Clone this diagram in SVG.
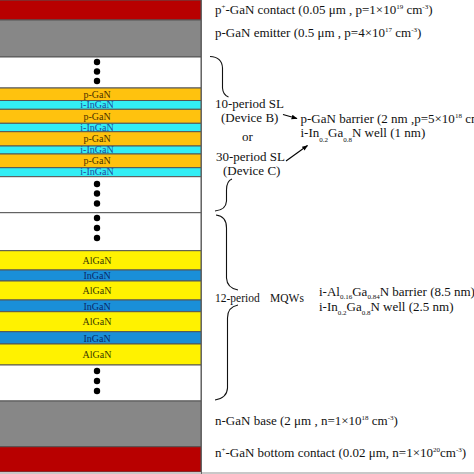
<svg xmlns="http://www.w3.org/2000/svg" width="474" height="474" viewBox="0 0 474 474">
<defs>
<marker id="ah" viewBox="0 0 10 10" refX="9" refY="5" markerWidth="6" markerHeight="6" orient="auto" markerUnits="userSpaceOnUse">
<path d="M0,1 L10,5 L0,9 z" fill="#000"/>
</marker>
</defs>
<style>
.lay{stroke:#555;stroke-width:1}
.red{fill:#B80000}
.gray{fill:#878787}
.white{fill:#fff}
.pg{fill:#FFC20E}
.ig{fill:#33EEF5}
.al{fill:#FFF200}
.in{fill:#1A8FD8}
.lt{font-family:"Liberation Serif","Times New Roman",serif;font-size:10px;text-anchor:middle}
.tpg{fill:#4A3200}
.tig{fill:#1E4AA0}
.tal{fill:#3A3A00}
.tin{fill:#0A2A6A}
.rt{font-family:"Liberation Serif","Times New Roman",serif;font-size:13px;fill:#111}
.sm{font-size:7px}
.br{fill:none;stroke:#111;stroke-width:1.1}
.ar{stroke:#000;stroke-width:1.1;marker-end:url(#ah)}
.dot{fill:#000}
</style>
<rect width="474" height="474" fill="#fff"/>
<g id="stack">
<rect class="lay red" x="-2" y="0" width="203" height="20"/>
<rect class="lay gray" x="-2" y="20" width="203" height="37"/>
<rect class="lay white" x="-2" y="57" width="203" height="31"/>
<rect class="lay pg" x="-2" y="88" width="203" height="12.5"/>
<rect class="lay ig" x="-2" y="100.5" width="203" height="8.8"/>
<rect class="lay pg" x="-2" y="109.3" width="203" height="14"/>
<rect class="lay ig" x="-2" y="123.3" width="203" height="8.4"/>
<rect class="lay pg" x="-2" y="131.7" width="203" height="14.3"/>
<rect class="lay ig" x="-2" y="146" width="203" height="8"/>
<rect class="lay pg" x="-2" y="154" width="203" height="13.7"/>
<rect class="lay ig" x="-2" y="167.7" width="203" height="9"/>
<rect class="lay white" x="-2" y="176.7" width="203" height="36"/>
<rect class="lay white" x="-2" y="212.7" width="203" height="38"/>
<rect class="lay al" x="-2" y="250.7" width="203" height="19.3"/>
<rect class="lay in" x="-2" y="270" width="203" height="11"/>
<rect class="lay al" x="-2" y="281" width="203" height="19"/>
<rect class="lay in" x="-2" y="300" width="203" height="11.7"/>
<rect class="lay al" x="-2" y="311.7" width="203" height="20"/>
<rect class="lay in" x="-2" y="331.7" width="203" height="12.3"/>
<rect class="lay al" x="-2" y="344" width="203" height="21"/>
<rect class="lay white" x="-2" y="365" width="203" height="36"/>
<rect class="lay gray" x="-2" y="401" width="203" height="45.7"/>
<rect class="lay red" x="-2" y="446.7" width="203" height="25.3"/>
<rect x="0" y="472" width="474" height="2" fill="#c8c8c8"/>
<line x1="201.5" y1="0" x2="201.5" y2="474" stroke="#666" stroke-width="1"/>
</g>
<g id="layer-labels" class="lt">
<text class="tpg" x="97" y="97.5">p-GaN</text>
<text class="tig" x="97" y="108">i-InGaN</text>
<text class="tpg" x="97" y="119.5">p-GaN</text>
<text class="tig" x="97" y="130.7">i-InGaN</text>
<text class="tpg" x="97" y="142">p-GaN</text>
<text class="tig" x="97" y="153">i-InGaN</text>
<text class="tpg" x="97" y="164">p-GaN</text>
<text class="tig" x="97" y="175.3">i-InGaN</text>
<text class="tal" x="97" y="263.5">AlGaN</text>
<text class="tin" x="97" y="279">InGaN</text>
<text class="tal" x="97" y="294">AlGaN</text>
<text class="tin" x="97" y="309.5">InGaN</text>
<text class="tal" x="97" y="325">AlGaN</text>
<text class="tin" x="97" y="341.5">InGaN</text>
<text class="tal" x="97" y="358">AlGaN</text>
</g>
<g id="dots">
<circle class="dot" cx="97" cy="62" r="3.2"/>
<circle class="dot" cx="97" cy="71.5" r="3.2"/>
<circle class="dot" cx="97" cy="81" r="3.2"/>
<circle class="dot" cx="97" cy="184" r="3.2"/>
<circle class="dot" cx="97" cy="193.5" r="3.2"/>
<circle class="dot" cx="97" cy="203.5" r="3.2"/>
<circle class="dot" cx="97" cy="218" r="3.2"/>
<circle class="dot" cx="97" cy="228" r="3.2"/>
<circle class="dot" cx="97" cy="238" r="3.2"/>
<circle class="dot" cx="97" cy="371" r="3.2"/>
<circle class="dot" cx="97" cy="381" r="3.2"/>
<circle class="dot" cx="97" cy="391" r="3.2"/>
</g>
<g id="connectors">
<path class="br" d="M210,56.5 Q222,57 222.5,68 L222.5,88 Q223,95 228.5,97"/>
<path class="br" d="M232,179 Q226.5,181 226.5,190 L226.5,201 Q226,210 215,211"/>
<path class="br" d="M216,215 Q226.5,216 226.5,228 L226.5,278 Q227,288 238,290"/>
<path class="br" d="M238,305 Q227.5,307 227.5,318 L227.5,388 Q227,398 215,400"/>
<line class="ar" x1="283" y1="114.5" x2="297" y2="118.5"/>
<line class="ar" x1="286" y1="161" x2="307.5" y2="145.5"/>
</g>
<g id="labels" class="rt">
<text x="215" y="14">p<tspan class="sm" dy="-5">+</tspan><tspan dy="5">-GaN contact (0.05 μm , p=1×10</tspan><tspan class="sm" dy="-5">19</tspan><tspan dy="5"> cm</tspan><tspan class="sm" dy="-5">-3</tspan><tspan dy="5">)</tspan></text>
<text x="215" y="37">p-GaN emitter (0.5 μm , p=4×10<tspan class="sm" dy="-5">17</tspan><tspan dy="5"> cm</tspan><tspan class="sm" dy="-5">-3</tspan><tspan dy="5">)</tspan></text>
<text x="215" y="108">10-period SL</text>
<text x="221" y="122">(Device B)</text>
<text x="242" y="140.5">or</text>
<text x="216" y="161">30-period SL</text>
<text x="223" y="175">(Device C)</text>
<text x="300.5" y="123">p-GaN barrier (2 nm ,p=5×10<tspan class="sm" dy="-5">18</tspan><tspan dy="5"> cm</tspan><tspan class="sm" dy="-5">-3</tspan><tspan dy="5">)</tspan></text>
<text x="300.5" y="137">i-In<tspan class="sm" dy="5">0.2</tspan><tspan dy="-5">Ga</tspan><tspan class="sm" dy="5">0.8</tspan><tspan dy="-5">N well (1 nm)</tspan></text>
<text x="215" y="302" style="font-size:11.5px">12-period<tspan x="270">MQWs</tspan></text>
<text x="319" y="295.5">i-Al<tspan class="sm" dy="3.5">0.16</tspan><tspan dy="-3.5">Ga</tspan><tspan class="sm" dy="3.5">0.84</tspan><tspan dy="-3.5">N barrier (8.5 nm)</tspan></text>
<text x="319" y="311">i-In<tspan class="sm" dy="3.5">0.2</tspan><tspan dy="-3.5">Ga</tspan><tspan class="sm" dy="3.5">0.8</tspan><tspan dy="-3.5">N well (2.5 nm)</tspan></text>
<text x="215" y="425">n-GaN base (2 μm , n=1×10<tspan class="sm" dy="-5">18</tspan><tspan dy="5"> cm</tspan><tspan class="sm" dy="-5">-3</tspan><tspan dy="5">)</tspan></text>
<text x="215" y="457">n<tspan class="sm" dy="-5">+</tspan><tspan dy="5">-GaN bottom contact (0.02 μm, n=1×10</tspan><tspan class="sm" dy="-5">20</tspan><tspan dy="5">cm</tspan><tspan class="sm" dy="-5">-3</tspan><tspan dy="5">)</tspan></text>
</g>
</svg>
